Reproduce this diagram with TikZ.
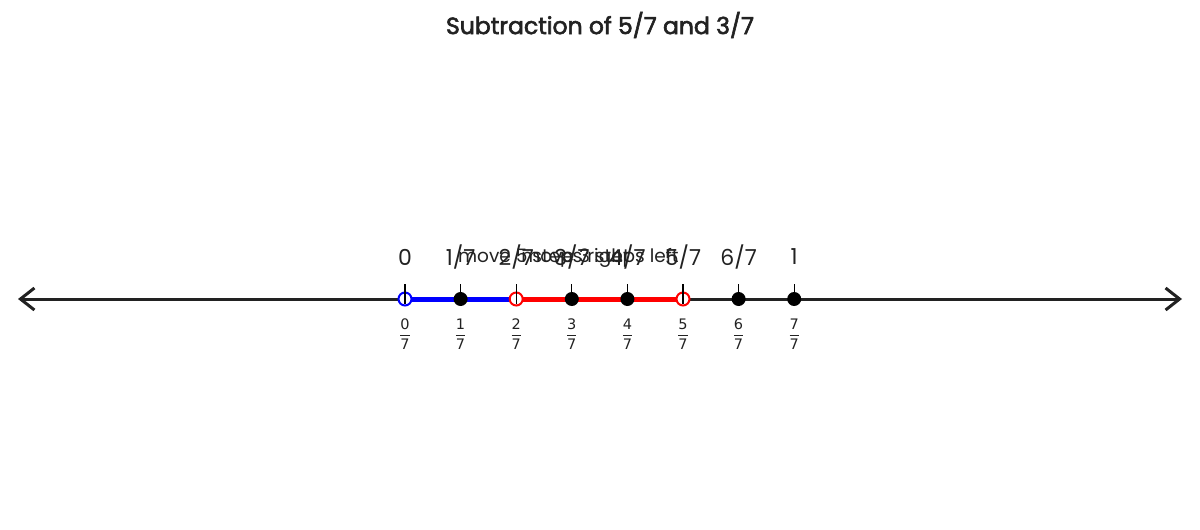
\documentclass[tikz,border=0pt]{standalone}
\usepackage{amsmath}
\usepackage{fontspec}
\setmainfont{Poppins}
\newfontfamily\titlefont[FakeBold=2.5]{Poppins}
\newfontfamily\fracfont{DejaVu Sans}
\usetikzlibrary{arrows.meta}
\definecolor{axisgray}{HTML}{222222}
\newcommand{\stepfrac}[1]{$\genfrac{}{}{0.7pt}{0}{\text{\fracfont #1}}{\text{\fracfont 7}}$}
\tikzset{
  ticklabel/.style={font=\fontsize{22}{26}\selectfont, text=axisgray},
  movelabel/.style={font=\fontsize{18.5}{22}\selectfont, text=axisgray},
  fraclabel/.style={font=\fontsize{14.5}{17}\selectfont, text=axisgray, inner sep=0pt},
  fulldot/.style={circle, fill=black, minimum size=14pt, inner sep=0pt},
  opendot/.style={circle, draw=#1, fill=white, line width=2pt, minimum size=13pt, inner sep=0pt}
}
\begin{document}
\begin{tikzpicture}[x=1pt, y=-1pt]
\useasboundingbox (0,0) rectangle (1200,530);

\node[font=\fontsize{23.5}{28}\selectfont\titlefont, text=axisgray] (title) at (600,25) {Subtraction of 5/7 and 3/7};

% number line
\coordinate (left) at (18,299);
\coordinate (right) at (1182,299);
\draw[axisgray, line width=3pt, {Straight Barb[length=14pt,width=22pt,line width=3pt]}-{Straight Barb[length=14pt,width=22pt,line width=3pt]}] (left) -- (right);

% ticks and labels
\foreach \i/\lab in {0/0, 1/1\slash 7, 2/2\slash 7, 3/3\slash 7, 4/4\slash 7, 5/5\slash 7, 6/6\slash 7, 7/1} {
  \coordinate (p\i) at ({405+\i*55.6},299);
  \draw[black, line width=1.2pt] ({405+\i*55.6},284) -- ({405+\i*55.6},304);
  \node[ticklabel] (t\i) at ({405+\i*55.6},257) {\lab};
  \node[fraclabel] (f\i) at ({405+\i*55.6},334) {\stepfrac{\i}};
}

% jumps
\draw[blue, line width=5pt] (p0) -- (p2);
\draw[red, line width=5pt] (p2) -- (p5);

\node[movelabel] (mright) at (544,258) {move 5 steps right};
\node[movelabel] (mleft) at (600,258) {move 3 steps left};

% points
\foreach \i in {1,3,4,6,7} {
  \node[fulldot] (d\i) at (p\i) {};
}
\node[opendot=blue] (d0) at (p0) {};
\node[opendot=red] (d2) at (p2) {};
\node[opendot=red] (d5) at (p5) {};
\foreach \i in {0,2,5} {
  \draw[black, line width=1.2pt] ({405+\i*55.6},284) -- ({405+\i*55.6},304);
}
\end{tikzpicture}
\end{document}
